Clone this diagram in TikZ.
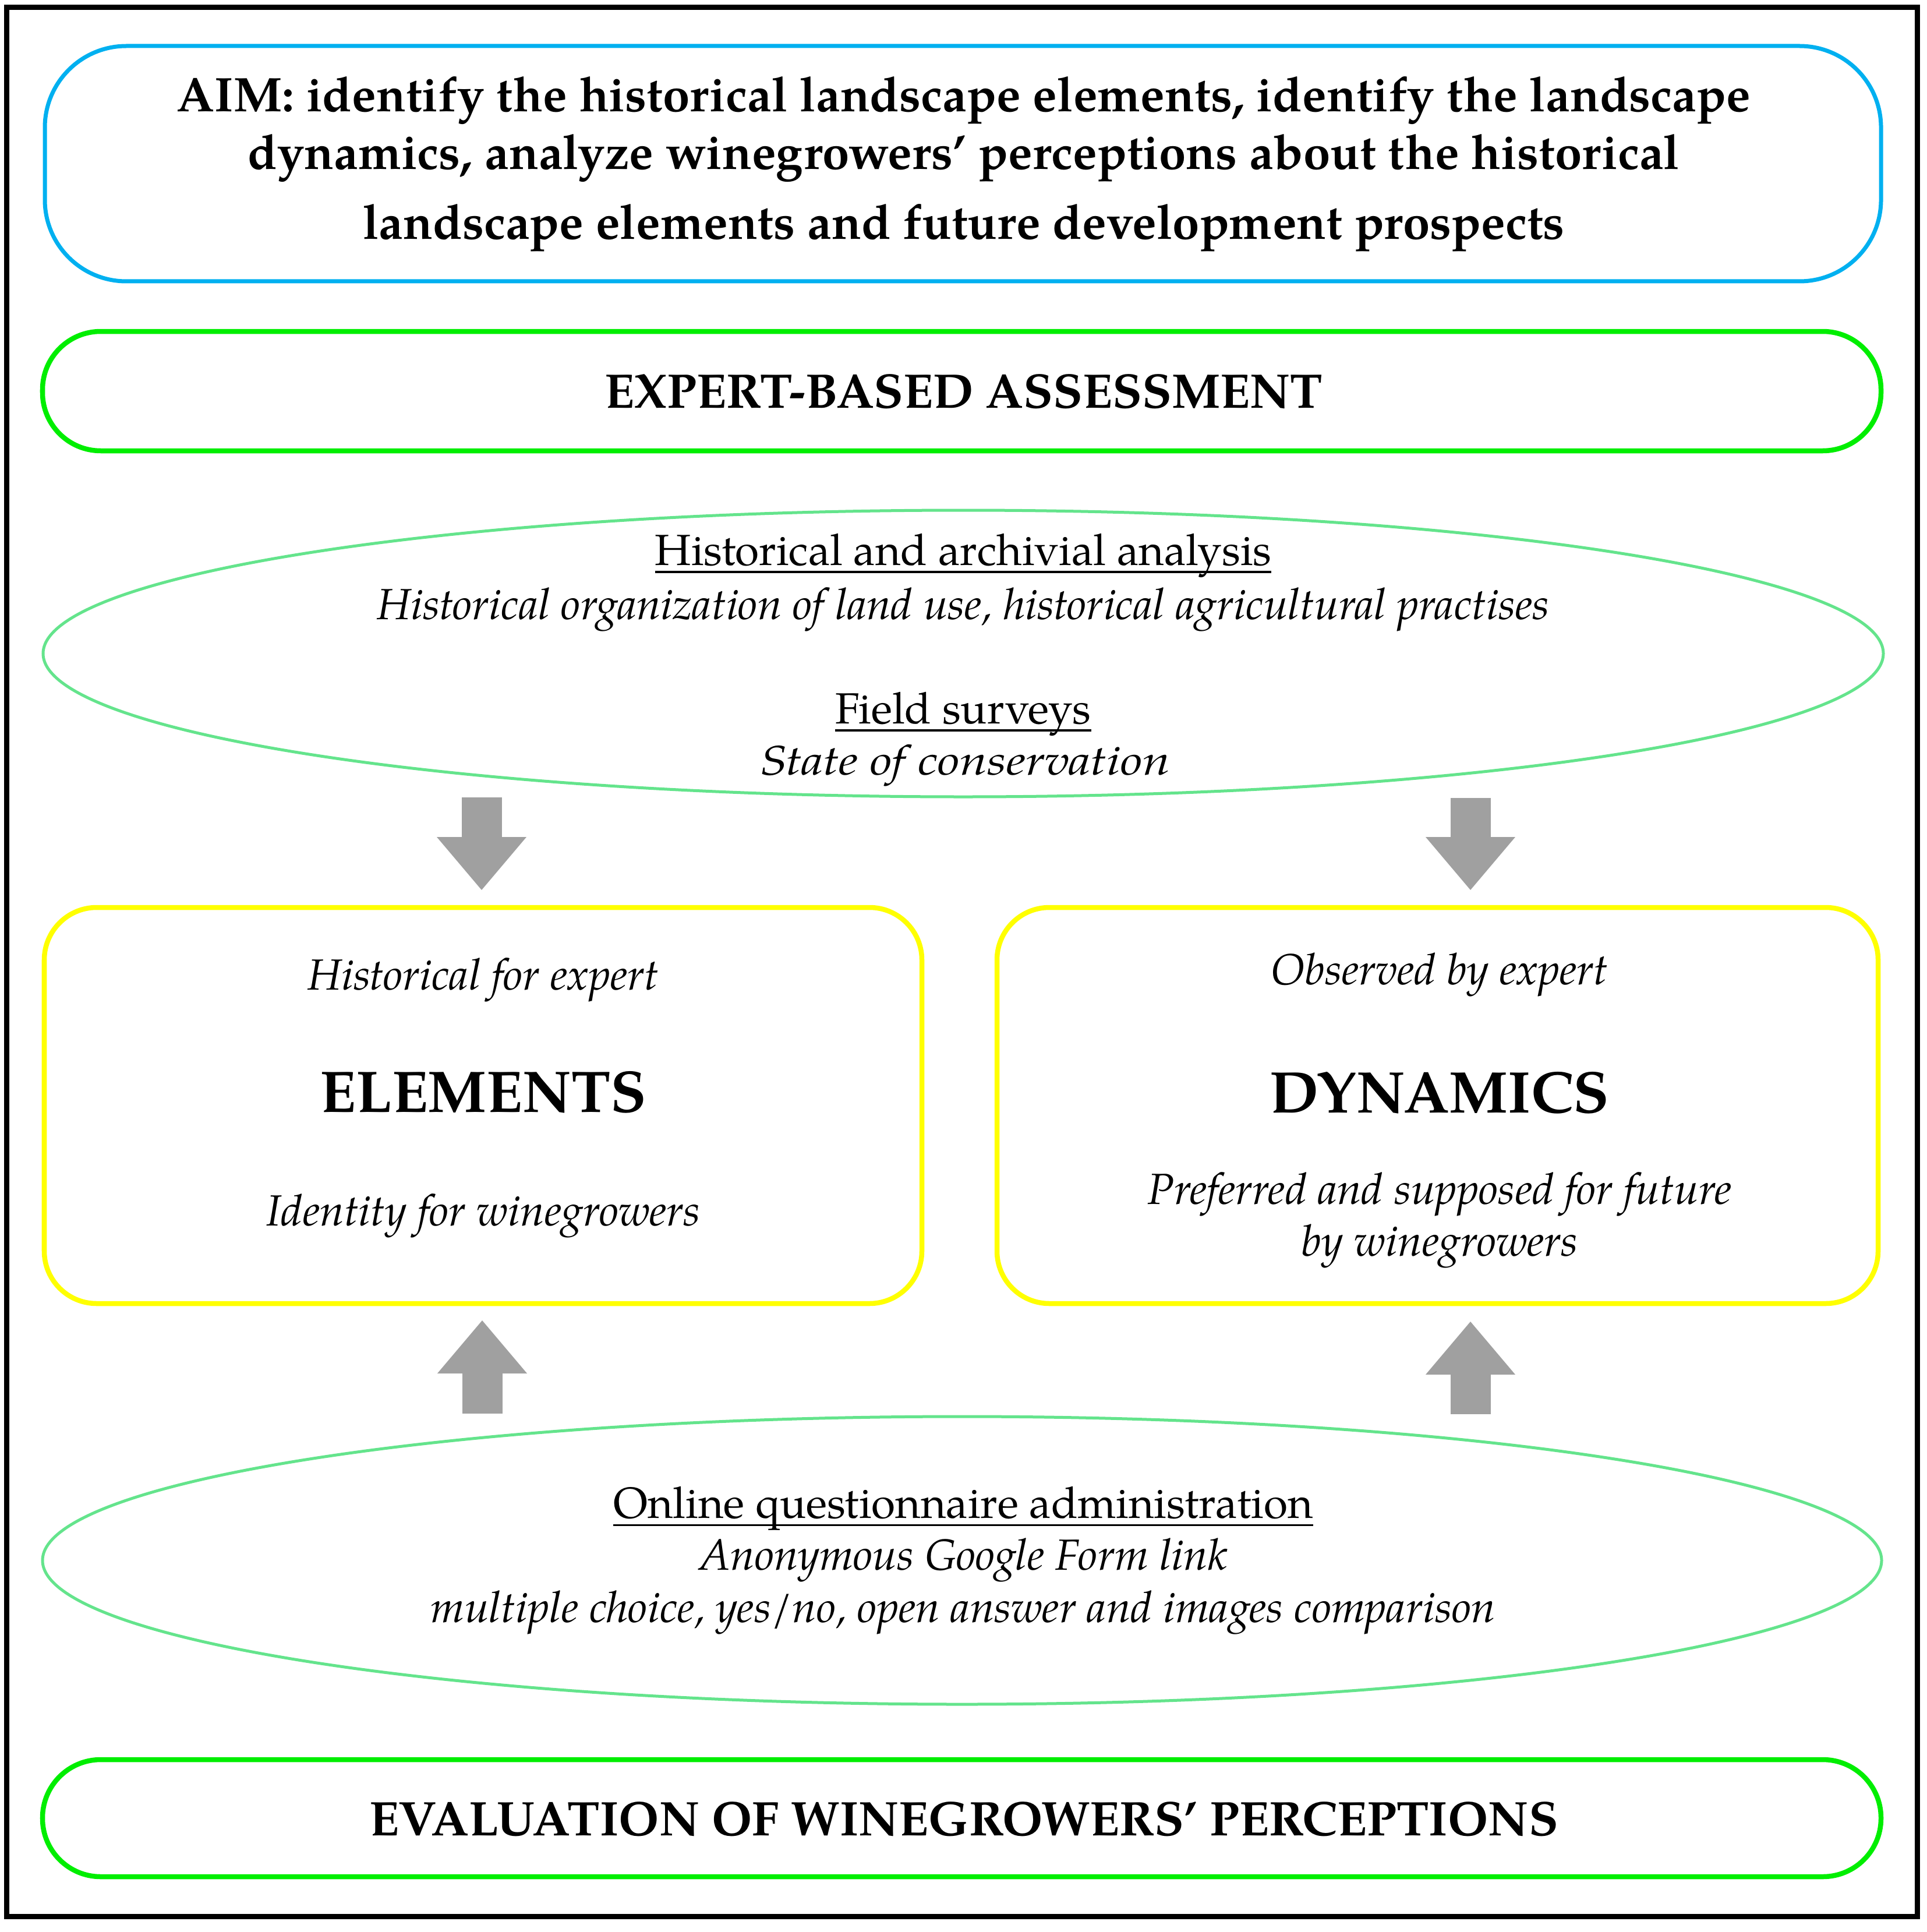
\documentclass[tikz,border=0pt]{standalone}
\usepackage{fontspec}
\usepackage{graphicx}
\setmainfont{TeX Gyre Pagella}
\usetikzlibrary{shapes.geometric,arrows.meta}

\definecolor{aimblue}{RGB}{0,176,240}
\definecolor{stagegreen}{RGB}{0,238,0}
\definecolor{mint}{RGB}{100,228,140}
\definecolor{boxyellow}{RGB}{255,255,0}
\definecolor{arrowgray}{RGB}{160,160,160}

\newcommand{\ulined}[1]{\setbox0\hbox{#1}\rlap{\rule[-0.19em]{\wd0}{0.05em}}\box0}

\tikzset{
    panel/.style={rectangle, inner sep=0pt},
    oval/.style={ellipse, draw=mint, line width=0.05cm, inner sep=0pt},
    bigarrow/.style={draw=arrowgray, line width=0.69cm, -{Triangle[length=0.91cm, width=1.54cm, line width=0pt]}},
    boldtxt/.style={anchor=base, inner sep=0pt, font=\bfseries\fontsize{23.7}{28}\selectfont},
    bigtxt/.style={anchor=base, inner sep=0pt, font=\bfseries\fontsize{28.7}{34}\selectfont},
    plaintxt/.style={anchor=base, inner sep=0pt, font=\fontsize{21.3}{26}\selectfont},
    ittxt/.style={anchor=base, inner sep=0pt, font=\itshape\fontsize{21.3}{26}\selectfont},
}

\begin{document}
\begin{tikzpicture}
    \useasboundingbox (0, 0) rectangle (33.08, -33.17);
    \draw[line width=0.09cm] (0.12, -0.13) rectangle (32.92, -32.90);

    % stages
    \node[panel, draw=aimblue, line width=0.07cm, rounded corners=1.4cm, minimum width=31.53cm, minimum height=4.04cm] (aim) at (16.535, -2.81) {};
    \node[panel, draw=stagegreen, line width=0.085cm, rounded corners=1.0cm, minimum width=31.57cm, minimum height=2.05cm] (expert) at (16.515, -6.715) {};
    \node[oval, minimum width=31.60cm, minimum height=4.92cm] (survey) at (16.54, -11.22) {};
    \node[panel, draw=boxyellow, line width=0.085cm, rounded corners=0.9cm, minimum width=15.07cm, minimum height=6.80cm] (elements) at (8.295, -18.98) {};
    \node[panel, draw=boxyellow, line width=0.085cm, rounded corners=0.9cm, minimum width=15.13cm, minimum height=6.80cm] (dynamics) at (24.685, -18.98) {};
    \node[oval, minimum width=31.58cm, minimum height=4.94cm] (quest) at (16.52, -26.79) {};
    \node[panel, draw=stagegreen, line width=0.085cm, rounded corners=1.0cm, minimum width=31.57cm, minimum height=2.01cm] (evaluation) at (16.515, -31.215) {};

    % texts
    \node[boldtxt] (aim1) at (16.55, -1.92) {AIM: identify the historical landscape elements, identify the landscape};
    \node[boldtxt] (aim2) at (16.55, -2.91) {dynamics, analyze winegrowers’ perceptions about the historical};
    \node[boldtxt] (aim3) at (16.55, -4.11) {landscape elements and future development prospects};
    \node[boldtxt] (expertlbl) at (16.55, -7.00) {EXPERT-BASED ASSESSMENT};

    \node[plaintxt] (hist) at (16.54, -9.70) {\ulined{Historical and archivial analysis}};
    \node[ittxt] (histdesc) at (16.54, -10.63) {Historical organization of land use, historical agricultural practises};
    \node[plaintxt] (field) at (16.54, -12.42) {\ulined{Field surveys}};
    \node[ittxt] (fielddesc) at (16.57, -13.30) {\scalebox{1.13}[0.95]{State of conservation}};

    \node[ittxt] (elemtop) at (8.30, -16.99) {Historical for expert};
    \node[bigtxt] (elemlbl) at (8.30, -19.09) {ELEMENTS};
    \node[ittxt] (elembot) at (8.30, -21.04) {Identity for winegrowers};

    \node[ittxt] (dyntop) at (24.72, -16.90) {Observed by expert};
    \node[bigtxt] (dynlbl) at (24.72, -19.10) {DYNAMICS};
    \node[ittxt] (dynbot1) at (24.72, -20.67) {Preferred and supposed for future};
    \node[ittxt] (dynbot2) at (24.72, -21.56) {by winegrowers};

    \node[plaintxt] (online) at (16.54, -26.06) {\ulined{Online questionnaire administration}};
    \node[ittxt] (onlinedesc1) at (16.54, -26.95) {Anonymous Google Form link};
    \node[ittxt] (onlinedesc2) at (16.54, -27.85) {multiple choice, yes/no, open answer and images comparison};

    \node[boldtxt] (evallbl) at (16.55, -31.51) {EVALUATION OF WINEGROWERS’ PERCEPTIONS};

    % block arrows
    \coordinate (survey-l) at (8.27, -13.69);
    \coordinate (elements-in) at (8.27, -15.28);
    \coordinate (survey-r) at (25.25, -13.70);
    \coordinate (dynamics-in) at (25.25, -15.28);
    \coordinate (quest-l) at (8.28, -24.27);
    \coordinate (elements-out) at (8.28, -22.67);
    \coordinate (quest-r) at (25.25, -24.28);
    \coordinate (dynamics-out) at (25.25, -22.69);

    \draw[bigarrow] (survey-l) -- (elements-in);
    \draw[bigarrow] (survey-r) -- (dynamics-in);
    \draw[bigarrow] (quest-l) -- (elements-out);
    \draw[bigarrow] (quest-r) -- (dynamics-out);

\end{tikzpicture}
\end{document}
